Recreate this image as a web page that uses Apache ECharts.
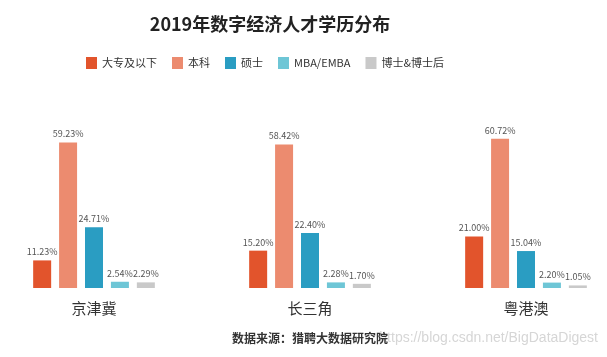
<!DOCTYPE html>
<html>
<head>
<meta charset="utf-8">
<script src="https://cdn.jsdelivr.net/npm/echarts@6/dist/echarts.min.js"></script>
<style>
	html, body { margin: 0; padding: 0; background: #fff; }
	#main { width: 607px; height: 357px; }
</style>
</head>
<body>
<div id="main"></div>
<script>
	var regions = ['京津冀', '长三角', '粤港澳'];
	var degreeNames = ['大专及以下', '本科', '硕士', 'MBA/EMBA', '博士&博士后'];
	var juniorCollege = [11.23, 15.20, 21.00];
	var bachelor = [59.23, 58.42, 60.72];
	var master = [24.71, 22.40, 15.04];
	var mba = [2.54, 2.28, 2.20];
	var doctor = [2.29, 1.70, 1.05];
	var allValues = [juniorCollege, bachelor, master, mba, doctor];
	var colors = ['#e2542c', '#ec8b6f', '#2a9dc2', '#6ec6d6', '#c9c9c9'];

	var chart = echarts.init(document.getElementById('main'));
	var font = '"Noto Sans CJK SC", "Noto Sans", sans-serif';

	var series = [];
	for (var i = 0; i < degreeNames.length; i++) {
		series.push({
			name: degreeNames[i],
			type: 'bar',
			data: allValues[i],
			barWidth: 18,
			barGap: '44%',
			label: {
				show: true,
				position: 'top',
				distance: 4,
				fontSize: 9,
				color: '#555',
				fontFamily: font,
				formatter: function(p) {
					return p.value.toFixed(2) + '%';
				}
			}
		});
	}

	var option = {
		color: colors,
		animation: false,
		title: {
			text: '2019年数字经济人才学历分布',
			left: 265,
			top: 10,
			textAlign: 'center',
			textStyle: {
				fontSize: 18,
				fontWeight: 'bold',
				color: '#222',
				fontFamily: font
			}
		},
		legend: {
			left: 81,
			top: 52,
			itemWidth: 11,
			itemHeight: 12,
			itemGap: 15,
			icon: 'rect',
			textStyle: {
				fontSize: 11,
				color: '#333',
				fontFamily: font
			},
			data: degreeNames
		},
		grid: {
			left: -14,
			width: 648,
			top: 116,
			bottom: 69,
			outerBoundsMode: 'none'
		},
		xAxis: {
			type: 'category',
			data: regions,
			axisLine: { show: false },
			axisTick: { show: false },
			axisLabel: {
				fontSize: 15,
				color: '#333',
				margin: 13,
				fontFamily: font
			}
		},
		yAxis: {
			type: 'value',
			min: 0,
			max: 70,
			show: false,
			splitLine: { show: false }
		},
		graphic: [{
			type: 'text',
			right: 9,
			top: 331,
			z: 1,
			style: {
				text: 'https://blog.csdn.net/BigDataDigest',
				fontSize: 14,
				fontFamily: '"Liberation Sans", Arial, sans-serif',
				fill: '#d6d6d6'
			}
		}, {
			type: 'text',
			left: 232,
			top: 332,
			z: 10,
			style: {
				text: '数据来源：猎聘大数据研究院',
				fontSize: 12,
				fontWeight: 'bold',
				fontFamily: font,
				fill: '#333'
			}
		}],
		series: series
	};
	chart.setOption(option);
	window.onresize = function() {
		chart.resize();
	};
</script>
</body>
</html>
